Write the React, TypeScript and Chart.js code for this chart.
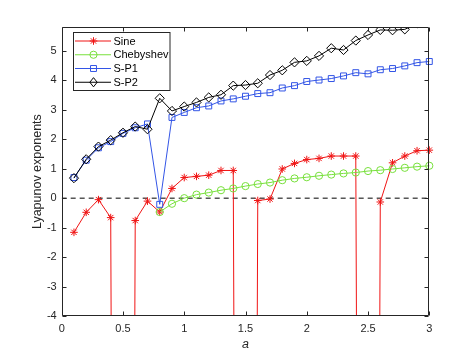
import React, { useEffect, useRef } from 'react';
import { Chart, registerables } from 'chart.js';

Chart.register(...registerables);

// ---------- data ----------
const aValues = [0.1, 0.2, 0.3, 0.4, 0.5, 0.6, 0.7, 0.8, 0.9, 1.0, 1.1, 1.2, 1.3, 1.4, 1.5, 1.6, 1.7, 1.8, 1.9, 2.0, 2.1, 2.2, 2.3, 2.4, 2.5, 2.6, 2.7, 2.8, 2.9, 3.0];
const sineValues = [-1.16, -0.48, -0.05, -0.66, -100, -0.76, -0.1, -0.47, 0.33, 0.7, 0.74, 0.78, 0.94, 0.94, -100, -0.08, -0.03, 0.99, 1.18, 1.31, 1.35, 1.43, 1.43, 1.43, -100, -0.13, 1.2, 1.43, 1.61, 1.63];
const chebyshevValues = [null, null, null, null, null, null, null, -0.47, -0.19, 0.0, 0.12, 0.19, 0.27, 0.33, 0.41, 0.48, 0.53, 0.61, 0.67, 0.71, 0.76, 0.8, 0.84, 0.87, 0.92, 0.95, 0.99, 1.03, 1.07, 1.1];
const sp1Values = [0.7, 1.29, 1.71, 1.92, 2.2, 2.39, 2.52, -0.21, 2.74, 2.91, 3.07, 3.13, 3.3, 3.37, 3.46, 3.55, 3.58, 3.74, 3.82, 3.96, 4.01, 4.06, 4.15, 4.26, 4.22, 4.36, 4.4, 4.49, 4.6, 4.64];
const sp2Values = [0.68, 1.32, 1.75, 1.97, 2.22, 2.43, 2.34, 3.39, 2.96, 3.11, 3.25, 3.42, 3.51, 3.82, 3.84, 3.9, 4.18, 4.34, 4.61, 4.66, 4.83, 5.09, 5.03, 5.35, 5.54, 5.71, 5.7, 5.73, 5.93, 6.1];
const zeroLineX = [0, 3];
const zeroLineY = [0, 0];
const seriesNames = ['Sine', 'Chebyshev', 'S-P1', 'S-P2'];
const xTickValues = [0, 0.5, 1, 1.5, 2, 2.5, 3];
const yTickValues = [-4, -3, -2, -1, 0, 1, 2, 3, 4, 5];
const xLabel = 'a';
const yLabel = 'Lyapunov exponents';

const FONT = "'Liberation Sans', Arial, Helvetica, sans-serif";
const AXIS_COLOR = '#262626';

const toPoints = (ys: (number | null)[]) => aValues.map((x, i) => ({ x, y: ys[i] }));

function drawMarker(ctx: CanvasRenderingContext2D, style: string, x: number, y: number, r: number) {
  ctx.beginPath();
  if (style === 'star') {
    ctx.moveTo(x, y - r); ctx.lineTo(x, y + r);
    ctx.moveTo(x - r, y); ctx.lineTo(x + r, y);
    const d = r * Math.SQRT1_2;
    ctx.moveTo(x - d, y - d); ctx.lineTo(x + d, y + d);
    ctx.moveTo(x - d, y + d); ctx.lineTo(x + d, y - d);
  } else if (style === 'circle') {
    ctx.arc(x, y, r, 0, Math.PI * 2);
  } else if (style === 'rect') {
    const s = r * Math.SQRT1_2;
    ctx.rect(x - s, y - s, 2 * s, 2 * s);
  } else if (style === 'rectRot') {
    ctx.moveTo(x, y - r); ctx.lineTo(x + r * 0.8, y); ctx.lineTo(x, y + r); ctx.lineTo(x - r * 0.8, y); ctx.closePath();
  }
  ctx.stroke();
}

const matlabAxes = {
  id: 'matlabAxes',
  afterDatasetsDraw(chart: any) {
    const { ctx, chartArea } = chart;
    const { left, right, top, bottom } = chartArea;
    const xs = chart.scales.x;
    const ys = chart.scales.y;
    const L = Math.round(left) + 0.5, R = Math.round(right) - 0.5, T = Math.round(top) + 0.5, B = Math.round(bottom) - 0.5;
    ctx.save();
    ctx.strokeStyle = AXIS_COLOR;
    ctx.lineWidth = 1;
    ctx.setLineDash([]);
    ctx.beginPath();
    ctx.rect(L, T, R - L, B - T);
    const tl = 4;
    xTickValues.forEach((v) => {
      const px = Math.round(xs.getPixelForValue(v)) + 0.5;
      ctx.moveTo(px, B); ctx.lineTo(px, B - tl);
      ctx.moveTo(px, T); ctx.lineTo(px, T + tl);
    });
    yTickValues.forEach((v) => {
      const py = Math.round(ys.getPixelForValue(v)) + 0.5;
      ctx.moveTo(L, py); ctx.lineTo(L + tl, py);
      ctx.moveTo(R, py); ctx.lineTo(R - tl, py);
    });
    ctx.stroke();
    ctx.restore();
  },
  afterDraw(chart: any) {
    const { ctx } = chart;
    const bx = 73.5, by = 32.5, bw = 96.5, bh = 58;
    ctx.save();
    ctx.fillStyle = '#ffffff';
    ctx.fillRect(bx, by, bw, bh);
    ctx.strokeStyle = AXIS_COLOR;
    ctx.lineWidth = 1;
    ctx.strokeRect(bx, by, bw, bh);
    const ds = chart.data.datasets.slice(0, 4);
    ds.forEach((d: any, i: number) => {
      const yc = 41 + i * 13.75;
      ctx.strokeStyle = d.borderColor;
      ctx.lineWidth = 1;
      ctx.beginPath();
      ctx.moveTo(75, yc); ctx.lineTo(111, yc);
      ctx.stroke();
      ctx.fillStyle = '#ffffff';
      drawMarker(ctx, d.pointStyle, 93.5, yc, d.pointRadius);
      ctx.fillStyle = '#000000';
      ctx.font = `11px ${FONT}`;
      ctx.textAlign = 'left';
      ctx.textBaseline = 'middle';
      ctx.fillText(d.label, 113.5, yc + 0.5);
    });
    ctx.restore();
  },
};

const App: React.FC = () => {
  const canvasRef = useRef<HTMLCanvasElement | null>(null);

  useEffect(() => {
    if (!canvasRef.current) return;
    const lineClip = { left: 6, right: 6, top: 0, bottom: 0 };
    const chart = new Chart(canvasRef.current, {
      type: 'line',
      data: {
        datasets: [
          {
            label: seriesNames[0], data: toPoints(sineValues), borderColor: '#f01414', backgroundColor: '#f01414',
            borderWidth: 1, pointStyle: 'star', pointRadius: 3.8, pointBorderWidth: 1, order: 4, clip: lineClip as any,
          },
          {
            label: seriesNames[1], data: toPoints(chebyshevValues), borderColor: '#78e03c', backgroundColor: 'rgba(0,0,0,0)',
            borderWidth: 1, pointStyle: 'circle', pointRadius: 3.6, pointBorderWidth: 1, order: 3, clip: lineClip as any,
          },
          {
            label: seriesNames[2], data: toPoints(sp1Values), borderColor: '#3355e6', backgroundColor: 'rgba(0,0,0,0)',
            borderWidth: 1, pointStyle: 'rect', pointRadius: 4.2, pointBorderWidth: 1, order: 2, clip: lineClip as any,
          },
          {
            label: seriesNames[3], data: toPoints(sp2Values), borderColor: '#000000', backgroundColor: 'rgba(0,0,0,0)',
            borderWidth: 1, pointStyle: 'rectRot', pointRadius: 4.6, pointBorderWidth: 1, order: 1, clip: lineClip as any,
          },
          {
            label: '', data: zeroLineX.map((x, i) => ({ x, y: zeroLineY[i] })), borderColor: '#000000',
            borderWidth: 1, borderDash: [5, 4], pointRadius: 0, order: 5, clip: 0 as any,
          },
        ],
      },
      options: {
        responsive: false,
        animation: false,
        devicePixelRatio: 1,
        layout: { padding: { top: 27.3, right: 44.7, left: 0, bottom: 0 } },
        plugins: { legend: { display: false }, tooltip: { enabled: false } },
        elements: { line: { tension: 0 } },
        scales: {
          x: {
            type: 'linear', min: 0, max: 3,
            grid: { display: false, drawTicks: false },
            border: { display: false },
            afterBuildTicks: (s: any) => { s.ticks = xTickValues.map((v) => ({ value: v })); },
            afterFit: (s: any) => { s.height = 39; },
            ticks: { color: AXIS_COLOR, font: { family: FONT, size: 11 }, padding: 6, maxRotation: 0, callback: (v: any) => String(v) },
            title: { display: true, text: xLabel, color: AXIS_COLOR, font: { family: FONT, size: 12.5, style: 'italic' }, padding: { top: 0, bottom: 2.5 } },
          },
          y: {
            type: 'linear', min: -4, max: 5.8,
            grid: { display: false, drawTicks: false },
            border: { display: false },
            afterBuildTicks: (s: any) => { s.ticks = yTickValues.map((v) => ({ value: v })); },
            afterFit: (s: any) => { s.width = 61.7; },
            ticks: { color: AXIS_COLOR, font: { family: FONT, size: 11 }, padding: 5, callback: (v: any) => String(v) },
            title: { display: true, text: yLabel, color: AXIS_COLOR, font: { family: FONT, size: 12.5 }, padding: { top: 30.5, bottom: 0 } },
          },
        },
      },
      plugins: [matlabAxes],
    });
    return () => chart.destroy();
  }, []);

  return (
    <div style={{ position: 'absolute', left: 0, top: 0, width: 474, height: 355, background: '#ffffff' }}>
      <canvas ref={canvasRef} width={474} height={355} style={{ display: 'block' }} />
    </div>
  );
};

export default App;
